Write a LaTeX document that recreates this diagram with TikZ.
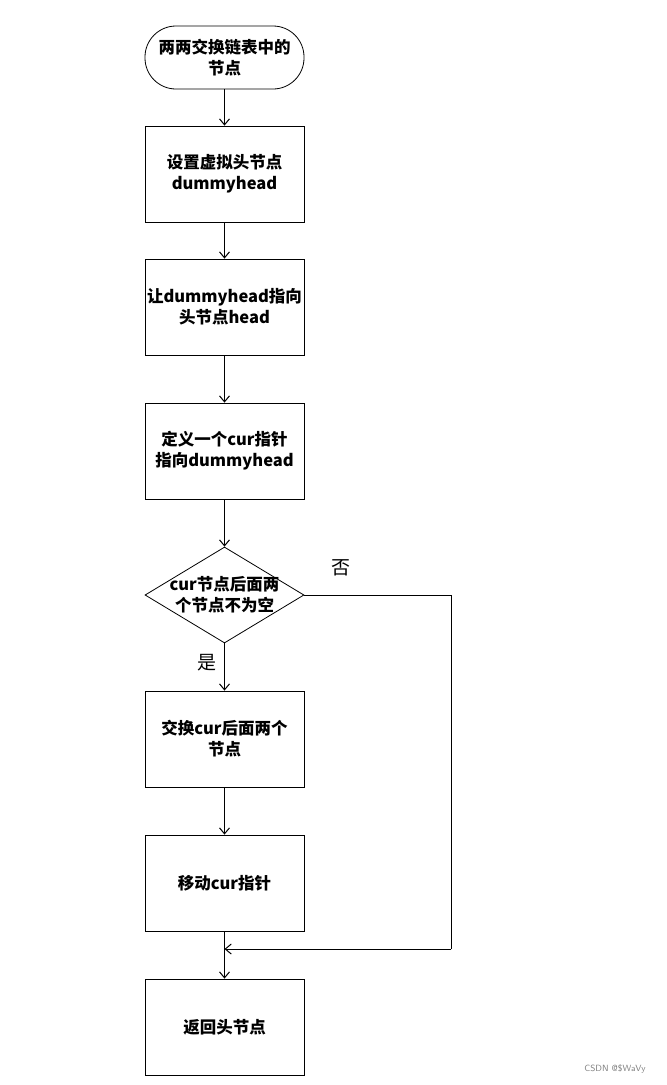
\documentclass[tikz,border=0pt]{standalone}
\usepackage{fontspec}
\newfontfamily\cjk{Noto Sans CJK SC}
\usetikzlibrary{shapes.geometric,arrows.meta}
\begin{document}
\begin{tikzpicture}[x=1pt,y=-1pt,
  txt/.style={align=center,font=\cjk\bfseries\fontsize{16.5}{21}\selectfont},
  box/.style={draw,txt,line width=0.8pt,minimum width=159pt,minimum height=96pt,inner xsep=1pt},
  arr/.style={line width=1pt,-{Straight Barb[length=6pt,width=10pt]}}]
\useasboundingbox (0,0) rectangle (667,1085);
\node[box,rounded corners=31pt,minimum height=63pt] (s) at (224.5,57.5) {两两交换链表中的\\节点};
\node[box] (b1) at (224.5,174) {设置虚拟头节点\\dummyhead};
\node[box] (b2) at (224.5,307) {让dummyhead指向\\头节点head};
\node[box] (b3) at (224.5,451) {定义一个cur指针\\指向dummyhead};
\node[draw,line width=0.8pt,diamond,minimum width=159pt,minimum height=96pt,inner sep=0pt,
  label={[txt]center:cur节点后面两\\个节点不为空}] (d) at (224.5,595) {};
\node[box] (b4) at (224.5,739) {交换cur后面两个\\节点};
\node[box] (b5) at (224.5,883) {移动cur指针};
\node[box] (b6) at (224.5,1027) {返回头节点};
\coordinate (c1) at (451,595);
\coordinate (c2) at (451,949);
\coordinate (m) at (224.5,949);
\draw[arr] (s) -- (b1);
\draw[arr] (b1) -- (b2);
\draw[arr] (b2) -- (b3);
\draw[arr] (b3) -- (d);
\draw[arr] (d) -- (b4);
\draw[arr] (b4) -- (b5);
\draw[arr] (b5) -- (b6);
\draw[line width=1pt] (d.east) -- (c1) -- (c2);
\draw[arr] (c2) -- (m);
\node[font=\cjk\fontsize{19}{19}\selectfont] (no) at (341,568) {否};
\node[font=\cjk\fontsize{19}{19}\selectfont] (yes) at (207,663) {是};
\node[font=\sffamily\fontsize{9}{9}\selectfont,text=gray] (wm) at (615,1069) {CSDN @\$WaVy};
\end{tikzpicture}
\end{document}
